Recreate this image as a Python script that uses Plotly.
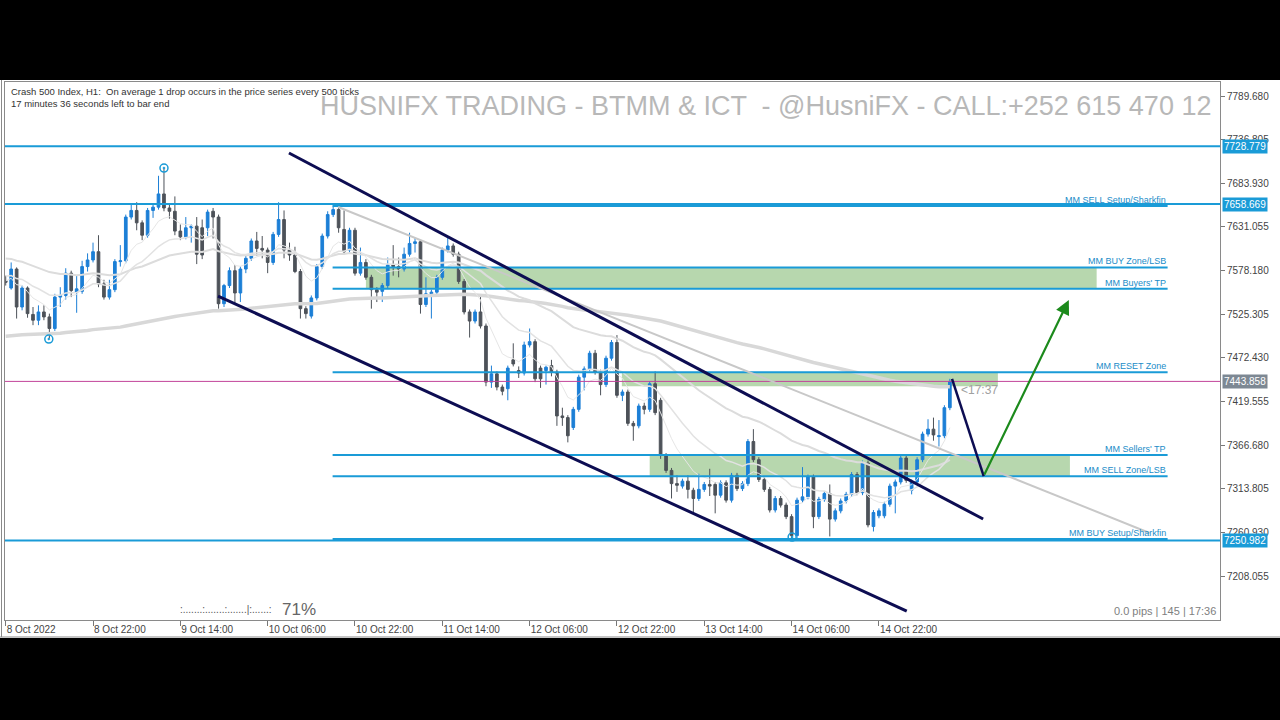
import plotly.graph_objects as go
import pandas as pd

# ---------------- data ----------------
T0 = pd.Timestamp("2022-10-08 06:00")

opens = [7566,7557,7580,7534,7557,7525,7518,7528,7522,7508,7546,7548,7575,7552,7553,7583,7591,7601,7562,7546,
         7555,7589,7590,7643,7651,7636,7621,7651,7655,7671,7654,7650,7626,7619,7630,7632,7630,7630,7650,7643,
         7538,7560,7578,7551,7580,7593,7614,7605,7603,7588,7622,7640,7603,7597,7577,7532,7523,7545,7583,7620,
         7646,7652,7628,7603,7627,7575,7588,7570,7555,7553,7560,7585,7583,7580,7598,7611,7613,7537,7550,7552,
         7570,7603,7608,7598,7565,7528,7517,7528,7511,7443,7453,7437,7435,7470,7457,7454,7488,7492,7460,7457,
         7463,7455,7402,7400,7388,7410,7449,7459,7478,7455,7440,7472,7491,7427,7431,7393,7390,7414,7410,7441,
         7421,7354,7336,7320,7317,7323,7312,7302,7313,7319,7319,7306,7321,7300,7330,7314,7320,7371,7349,7325,
         7313,7288,7302,7294,7280,7257,7300,7304,7328,7280,7301,7308,7277,7287,7299,7307,7331,7309,7345,7268,
         7281,7281,7295,7317,7322,7351,7312,7322,7349,7380,7386,7377,7378,7412]
highs = [7572,7588,7582,7560,7559,7534,7536,7536,7526,7550,7558,7581,7578,7572,7590,7599,7612,7621,7567,7567,
         7592,7609,7646,7659,7661,7639,7654,7659,7693,7702,7658,7668,7634,7643,7634,7643,7640,7652,7654,7646,
         7562,7582,7585,7583,7596,7617,7625,7620,7606,7625,7661,7651,7612,7607,7580,7535,7548,7586,7623,7650,
         7657,7655,7651,7630,7630,7606,7592,7573,7558,7563,7594,7609,7594,7606,7624,7618,7615,7570,7555,7573,
         7606,7618,7611,7601,7568,7531,7531,7548,7514,7463,7456,7440,7463,7490,7462,7492,7508,7495,7463,7463,
         7470,7458,7412,7403,7413,7452,7462,7481,7482,7458,7475,7494,7500,7434,7434,7396,7417,7418,7444,7456,
         7424,7357,7339,7330,7326,7330,7315,7332,7322,7338,7322,7324,7324,7333,7333,7323,7374,7386,7352,7328,
         7316,7305,7305,7297,7283,7303,7340,7331,7331,7304,7311,7319,7290,7302,7310,7334,7334,7348,7348,7288,
         7290,7298,7320,7325,7354,7354,7325,7352,7383,7398,7400,7397,7415,7447]
lows = [7560,7555,7520,7530,7521,7512,7512,7518,7496,7505,7534,7543,7546,7527,7550,7577,7588,7558,7543,7543,
        7552,7583,7587,7640,7627,7615,7618,7642,7652,7650,7641,7621,7615,7616,7612,7586,7592,7620,7617,7532,
        7534,7557,7538,7540,7575,7590,7596,7593,7575,7585,7619,7593,7590,7575,7520,7520,7520,7542,7580,7617,
        7643,7624,7598,7600,7572,7572,7567,7532,7540,7540,7557,7572,7570,7577,7595,7600,7526,7534,7520,7549,
        7567,7600,7595,7562,7525,7497,7514,7508,7438,7436,7433,7427,7421,7462,7448,7451,7485,7443,7436,7440,
        7450,7390,7390,7370,7385,7407,7433,7456,7452,7427,7437,7469,7424,7420,7390,7372,7387,7404,7407,7403,
        7350,7333,7302,7310,7314,7302,7285,7299,7310,7305,7284,7303,7297,7297,7311,7311,7317,7346,7322,7310,
        7285,7285,7291,7277,7254,7254,7297,7301,7266,7277,7298,7256,7274,7284,7296,7304,7306,7306,7267,7262,
        7278,7278,7292,7284,7319,7321,7307,7319,7346,7377,7372,7365,7375,7409]
closes = [7564,7580,7534,7557,7526,7518,7528,7522,7508,7546,7548,7575,7554,7556,7583,7591,7601,7562,7546,7555,
          7589,7590,7643,7651,7636,7621,7651,7655,7671,7654,7650,7626,7619,7630,7632,7598,7597,7649,7643,7538,
          7560,7578,7551,7580,7593,7614,7605,7603,7588,7622,7640,7603,7597,7577,7532,7526,7545,7583,7620,7646,
          7652,7630,7601,7627,7575,7588,7570,7555,7552,7560,7585,7583,7580,7598,7611,7613,7537,7550,7552,7570,
          7603,7608,7598,7565,7528,7517,7528,7511,7443,7453,7437,7432,7460,7465,7454,7488,7492,7447,7447,7461,
          7455,7402,7400,7378,7410,7449,7459,7478,7455,7440,7472,7491,7427,7431,7393,7390,7414,7410,7441,7406,
          7354,7336,7320,7318,7323,7313,7302,7313,7319,7317,7306,7321,7300,7330,7314,7320,7371,7349,7325,7313,
          7288,7302,7294,7280,7257,7300,7304,7328,7280,7301,7308,7277,7287,7299,7307,7331,7309,7345,7270,7285,
          7287,7295,7317,7322,7351,7324,7322,7349,7380,7386,7379,7378,7412,7443.858]

x_tick_bars = [0, 16, 32, 48, 64, 80, 96, 112, 128, 144, 160]
x_tick_text = ["8 Oct 2022", "8 Oct 22:00", "9 Oct 14:00", "10 Oct 06:00", "10 Oct 22:00", "11 Oct 14:00",
               "12 Oct 06:00", "12 Oct 22:00", "13 Oct 14:00", "14 Oct 06:00", "14 Oct 22:00"]
y_ticks = [7789.680, 7736.805, 7683.930, 7631.055, 7578.180, 7525.305, 7472.430, 7419.555,
           7366.680, 7313.805, 7260.930, 7208.055]

full_levels = [7728.779, 7658.669, 7250.982]
bid_price = 7443.858
mm_level_names = ["MM SELL Setup/Sharkfin", "MM BUY Zone/LSB", "MM Buyers' TP", "MM RESET Zone",
                  "MM Sellers' TP", "MM SELL Zone/LSB", "MM BUY Setup/Sharkfin"]
mm_level_prices = [7656.5, 7582.0, 7556.0, 7455.0, 7354.6, 7328.8, 7253.0]
mm_level_span = [59.9, 212.9]          # bars

zone_spans = [[66.0, 199.9], [112.9, 181.8], [118.0, 195.0]]        # bars
zone_prices = [[7556.0, 7582.0], [7438.0, 7455.0], [7328.8, 7354.6]]

channel_upper = [[51.9, 7720.6], [179.1, 7277.1]]
channel_lower = [[38.9, 7547.3], [165.1, 7165.6]]
trend_grey = [[60.9, 7655.2], [209.6, 7260.2]]
path_down = [[173.4, 7447.0], [179.2, 7329.2]]
path_up = [[179.2, 7329.2], [194.8, 7542.5]]
swing_bars = [29.0, 7.9, 144.1]
swing_prices = [7702.4, 7495.2, 7255.3]

# ---------------- helpers ----------------
def t(h):
    return (T0 + pd.Timedelta(hours=h)).strftime("%Y-%m-%d %H:%M:%S")

def ema(vals, n, seed):
    a = 2.0 / (n + 1)
    e = seed
    out = []
    for v in vals:
        e = e + a * (v - e)
        out.append(e)
    return out

times = [t(i) for i in range(len(closes))]

# pixel geometry helpers for paper-referenced items
L, R, TOP, BOT = 5, 1220, 82, 620
def px(x):
    return (x - L) / (R - L)
def py(y):
    return (BOT - y) / (BOT - TOP)

BLUE = "#1c7fd6"
DARK = "#4d5259"
LEVEL = "#1a9bd7"
NAVY = "#0d0d52"

fig = go.Figure()

# moving averages
for n, seed, col, w in [(200, 7498, "#d8d8d8", 3.5), (50, 7594, "#dcdcdc", 2),
                        (20, 7572, "#e2e2e2", 1.5), (8, 7566, "#e6e6e6", 1)]:
    fig.add_trace(go.Scatter(x=times, y=ema(closes, n, seed), mode="lines",
                             line=dict(color=col, width=w), hoverinfo="skip", showlegend=False))

fig.add_trace(go.Candlestick(
    x=times, open=opens, high=highs, low=lows, close=closes,
    increasing=dict(line=dict(color=BLUE, width=1), fillcolor=BLUE),
    decreasing=dict(line=dict(color=DARK, width=1), fillcolor=DARK),
    whiskerwidth=0, showlegend=False))

fig.add_trace(go.Scatter(x=[t(b) for b in swing_bars], y=swing_prices, mode="markers",
                         marker=dict(symbol="circle-open-dot", size=8, color=LEVEL, line=dict(width=1.5)),
                         showlegend=False, hoverinfo="skip"))

shapes = []
# zones
for (b0, b1), (p0, p1) in zip(zone_spans, zone_prices):
    shapes.append(dict(type="rect", xref="x", yref="y", x0=t(b0), x1=t(b1), y0=p0, y1=p1,
                       fillcolor="rgba(138,190,125,0.62)", line=dict(width=0), layer="below"))
# full width levels
for lv in full_levels:
    shapes.append(dict(type="line", xref="paper", yref="y", x0=0, x1=1, y0=lv, y1=lv,
                       line=dict(color=LEVEL, width=2)))
shapes.append(dict(type="line", xref="paper", yref="y", x0=0, x1=1, y0=bid_price, y1=bid_price,
                   line=dict(color="#c2449a", width=1)))
# MM levels
for lv in mm_level_prices:
    shapes.append(dict(type="line", xref="x", yref="y", x0=t(mm_level_span[0]), x1=t(mm_level_span[1]),
                       y0=lv, y1=lv, line=dict(color=LEVEL, width=2)))
# trend lines
shapes.append(dict(type="line", xref="x", yref="y", x0=t(trend_grey[0][0]), y0=trend_grey[0][1],
                   x1=t(trend_grey[1][0]), y1=trend_grey[1][1], line=dict(color="#c8c8c8", width=2)))
for seg in (channel_upper, channel_lower):
    shapes.append(dict(type="line", xref="x", yref="y", x0=t(seg[0][0]), y0=seg[0][1],
                       x1=t(seg[1][0]), y1=seg[1][1], line=dict(color=NAVY, width=3)))
shapes.append(dict(type="line", xref="x", yref="y", x0=t(path_down[0][0]), y0=path_down[0][1],
                   x1=t(path_down[1][0]), y1=path_down[1][1], line=dict(color=NAVY, width=2.5)))
# black bands outside the terminal window
shapes.append(dict(type="rect", xref="paper", yref="paper", x0=-0.01, x1=1.06, y0=py(80), y1=py(-5),
                   fillcolor="black", line=dict(width=0), layer="above"))
shapes.append(dict(type="rect", xref="paper", yref="paper", x0=-0.01, x1=1.06, y0=py(725), y1=py(638),
                   fillcolor="black", line=dict(width=0), layer="above"))
shapes.append(dict(type="line", xref="paper", yref="paper", x0=px(0), x1=px(1280), y0=py(637), y1=py(637),
                   line=dict(color="#8a8a8a", width=1)))
shapes.append(dict(type="line", xref="paper", yref="paper", x0=px(1.5), x1=px(1.5), y0=py(80), y1=py(637),
                   line=dict(color="#8a8a8a", width=1)))

ann = []
for name, lv in zip(mm_level_names, mm_level_prices):
    ann.append(dict(xref="x", yref="y", x=t(mm_level_span[1]), y=lv, text=name, showarrow=False,
                    xanchor="right", yanchor="bottom", yshift=-1,
                    font=dict(size=9, color="#1a8cc8", family="Liberation Sans")))
# green arrow
ann.append(dict(xref="x", yref="y", axref="x", ayref="y", x=t(path_up[1][0]), y=path_up[1][1],
                ax=t(path_up[0][0]), ay=path_up[0][1], showarrow=True, arrowhead=2, arrowsize=1.3,
                arrowwidth=2.2, arrowcolor="#1c8a1c", text=""))
# price boxes on the axis
for lv, bg in [(full_levels[0], LEVEL), (full_levels[1], LEVEL), (full_levels[2], LEVEL), (bid_price, "#7d8893")]:
    ann.append(dict(xref="paper", yref="y", x=px(1222), y=lv, text=f"{lv:.3f}", showarrow=False,
                    xanchor="left", yanchor="middle", bgcolor=bg, borderpad=1,
                    font=dict(size=10, color="white", family="Liberation Sans")))
ann.append(dict(xref="x", yref="y", x=t(174.6), y=7433.5, text="<17:37", showarrow=False, xanchor="left",
                font=dict(size=12, color="#a0a0a0", family="Liberation Sans")))
ann.append(dict(xref="paper", yref="paper", x=px(1213), y=py(106), text="HUSNIFX TRADING - BTMM &amp; ICT  - @HusniFX - CALL:+252 615 470 12",
                showarrow=False, xanchor="right", yanchor="middle",
                font=dict(size=27, color="#b8b8b8", family="Liberation Sans")))
ann.append(dict(xref="paper", yref="paper", x=px(9), y=py(83.5), align="left",
                text="Crash 500 Index, H1:  On average 1 drop occurs in the price series every 500 ticks<br>17 minutes 36 seconds left to bar end",
                showarrow=False, xanchor="left", yanchor="top",
                font=dict(size=9.5, color="#333333", family="Liberation Sans")))
ann.append(dict(xref="paper", yref="paper", x=px(178), y=py(609), text=":.......:.......:.......|:......:",
                showarrow=False, xanchor="left", yanchor="middle",
                font=dict(size=10, color="#555555", family="Liberation Sans")))
ann.append(dict(xref="paper", yref="paper", x=px(299), y=py(609), text="71%", showarrow=False,
                xanchor="center", yanchor="middle", font=dict(size=17, color="#666666", family="Liberation Sans")))
ann.append(dict(xref="paper", yref="paper", x=px(1218), y=py(611), text="0.0 pips | 145 | 17:36", showarrow=False,
                xanchor="right", yanchor="middle", font=dict(size=11, color="#808080", family="Liberation Sans")))

fig.update_layout(
    width=1280, height=720,
    margin=dict(l=L, r=1280 - R, t=TOP, b=720 - BOT, pad=0),
    paper_bgcolor="white", plot_bgcolor="white",
    shapes=shapes, annotations=ann, showlegend=False,
    font=dict(family="Liberation Sans", size=10, color="#444444"),
    xaxis=dict(range=[t(-0.13), t(222.5)], rangeslider=dict(visible=False),
               tickvals=[t(b) for b in x_tick_bars], ticktext=x_tick_text,
               ticks="outside", ticklen=5, tickcolor="#777777", ticklabelposition="outside right",
               showgrid=False, zeroline=False, showline=True, linecolor="#8a8a8a", mirror=True,
               tickfont=dict(size=10, color="#444444")),
    yaxis=dict(range=[7154.75, 7806.64], side="right", tickvals=y_ticks, tickformat=".3f",
               ticks="outside", ticklen=4, tickcolor="#777777", showgrid=False, zeroline=False,
               showline=True, linecolor="#8a8a8a", mirror=True,
               tickfont=dict(size=10, color="#444444")),
)

fig.write_html("out.html", config={"displayModeBar": False},
               post_script="document.body.style.margin='0px';document.body.style.overflow='hidden';")
